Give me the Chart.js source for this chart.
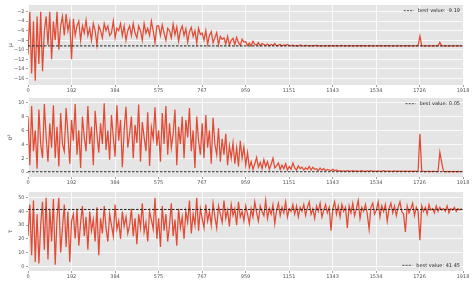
<!DOCTYPE html>
<html><head><meta charset="utf-8">
<script src="https://cdn.jsdelivr.net/npm/chart.js@4.4.1/dist/chart.umd.min.js"></script>
<style>
html,body{margin:0;padding:0;background:#fff;width:474px;height:284px;overflow:hidden;position:relative}
canvas{position:absolute;left:0}
</style></head><body>
<canvas id="c1" width="474" height="95" style="top:0px"></canvas>
<canvas id="c2" width="474" height="95" style="top:93px"></canvas>
<canvas id="c3" width="474" height="97" style="top:187px"></canvas>
<script>
// ---- data ----
const STEP = 8; // iterations between sampled points
const xTickValues = [0, 191.8, 383.6, 575.4, 767.2, 959, 1150.8, 1342.6, 1534.4, 1726.2, 1918];
const xTickLabels = ['0','192','384','575','767','959','1151','1343','1534','1726','1918'];

const muValues = [
  -11,-2,-15,-4,-16.5,-3,-13,-2,-14.5,-6,
  -3,-9,-2,-12,-4,-8,-2,-10,-5,-3,
  -7,-2.5,-6,-4,-12,-3.5,-7,-5,-4,-8,
  -5,-6.5,-3.8,-7,-5.5,-8,-4.5,-6,-9,-5,
  -6,-7.5,-4.5,-6,-5,-7,-6.5,-4,-7.5,-5.5,
  -6,-4.5,-7,-5,-8,-6,-5,-7,-4.5,-6.5,
  -7.5,-5,-6,-8,-4.5,-6.5,-5.5,-7,-4,-6,-8.5,-5,
  -5,-7,-4.8,-6.5,-8,-5.5,-6,-7.5,-4.6,-6.8,-5.2,-8.2,-6,-5,-7,-5.6,-8.4,-6.2,-5.3,-7.2,-6,-8.6,-5.5,-6.8,
  -6.5,-8,-6,-8.8,-7,-6.2,-8.5,-7.5,-6.4,-8.9,-7.2,-7.8,
  -7.5,-8.8,-7.2,-9,-8,-7.6,-8.9,-7.4,-8.5,-9.1,-7.8,-8.4,
  -8.3,-9.1,-8.6,-9.2,-8.2,-8.9,-9,-8.5,-9.2,-8.7,-8.9,-9.1,
  -8.8,-9.2,-8.9,-9.1,-8.7,-9.2,-9,-8.9,-9.2,-9,-9.1,-8.9,
  -9.1,-9.2,-9.05,-9.18,-9.12,-9.2,-9.0,-9.16,-9.2,-9.1,-9.15,-9.19,
  -9.12,-9.2,-9.15,-9.1,-9.19,-9.14,-9.2,-9.16,-9.11,-9.19,-9.15,-9.2,
  -9.15,-9.19,-9.12,-9.2,-9.17,-9.1,-9.19,-9.15,-9.2,-9.13,-9.18,-9.16,
  -9.18,-9.12,-9.2,-9.15,-9.19,-9.14,-9.2,-9.17,-9.13,-9.19,-9.16,-9.2,
  -9.16,-9.2,-9.14,-9.19,-9.17,-9.2,-9.15,-9.18,-9.2,-9.16,-9.19,-9.17,
  -9.19,-9.16,-9.2,-9.17,-9.19,-9.15,-9.2,-9.18,-9.16,-9.2,-9.18,-9.19,
  -7.1,
  -9.19,-9.17,-9.2,-9.18,-9.19,-9.16,-9.2,-9.18,-9.19,-9.17,
  -8.45,
  -9.18,-9.2,-9.17,-9.19,-9.2,-9.18,-9.19,-9.17,-9.2,-9.19,-9.18,-9.19
];

const sigmaValues = [
  8,1,9.5,3,6,0.5,9,4,2,9.8,
  5,1.5,7,3.5,9.6,2,6.5,0.8,8.5,4,
  3,9.2,5.5,1.2,7.5,4.5,9.8,2.5,6,0.6,
  8,5,3,9.5,4,6.5,1,8.8,5.5,2.8,
  7,4,9.9,3.2,6,1.8,8.2,5,2.2,9.6,
  4.5,7.5,0.7,6,9.4,3.5,5.5,8,2,6.8,
  4.2,9.7,1.5,7.2,5,3,8.6,0.9,6.4,4.8,9.3,3.8,
  6,1.5,8.5,4,9.5,2.5,7,3.5,5.5,9,1,6.5,4,8,2,7.5,5,9.2,3,6,0.6,8,4.5,2.5,
  7,2,8.2,3.5,6,1.2,7.8,4,2.5,
  6.3,1.5,4.8,2.5,5.5,1,3.8,2,
  4.2,1.2,3.5,0.8,4.5,2,3.6,1,
  2.8,0.6,1.5,0.4,1.2,2.1,0.7,1.4,0.5,1.8,
  0.8,1.5,0.4,1.1,2,0.6,0.9,1.3,0.4,1.0,
  0.5,1.2,0.3,0.8,0.4,1.3,0.6,0.3,0.9,0.5,0.7,0.3,0.6,0.4,0.8,
  0.3,0.7,0.4,0.5,0.2,0.6,0.3,0.5,0.2,0.4,0.3,0.2,0.4,0.2,0.3,
  0.15,0.2,0.1,0.18,0.12,0.2,0.1,0.15,0.2,0.12,0.18,0.1,0.16,0.2,0.12,
  0.1,0.17,0.12,0.2,0.1,0.15,0.12,0.18,0.1,0.14,0.2,0.1,0.13,0.16,0.1,
  0.12,0.18,0.1,0.15,0.11,0.16,0.1,0.14,0.12,0.1,0.15,0.11,0.13,0.1,0.12,
  5.5,
  0.1,0.12,0.08,0.1,0.12,0.09,0.1,0.11,0.08,0.1,
  2.85,1.4,
  0.1,0.08,0.11,0.09,0.1,0.08,0.1,0.09,0.11,0.08,0.1
];

const tauValues = [
  22,45,8,48,3,38,2,30,47,12,
  50,5,42,18,49,1,35,50,10,28,
  45,14,40,3,33,
  38,20,42,15,32,44,22,36,12,40,26,34,18,43,8,
  35,24,44,28,18,38,30,22,45,27,33,20,40,29,36,24,
  30,42,22,35,16,38,28,46,25,32,18,40,34,27,50,20,
  35,14,44,26,38,18,30,46,22,34,15,42,28,36,20,40,
  32,48,24,38,30,50,26,42,35,28,45,33,
  40,30,46,36,28,44,38,32,48,35,41,29,45,37,42,30,47,36,40,33,44,38,31,
  42,36,47,39,33,44,40,37,48,35,42,38,45,31,41,46,37,43,39,47,36,42,40,45,38,44,36,43,
  40,45,37,43,47,38,42,35,44,40,46,36,41,45,39,43,
  26,
  42,47,38,44,36,45,40,43,
  28,
  44,39,46,37,42,48,35,43,40,45,38,
  27,
  43,46,38,41,47,36,44,40,45,33,42,46,39,44,37,43,47,40,38,
  25,
  44,39,42,46,37,43,40,
  19,
  44,40,43,38,45,41,42,39,44,40,43,41,42,40,44,39,42,41,43,40,42,41,42
];

const bestValues = [-9.19, 0.05, 41.45];
const bestLabels = ['best value: -9.19', 'best value: 0.05', 'best value: 41.45'];
const yLabels = ['\u03bc', '\u03c3\u00b2', '\u03c4'];
const muTicks = [-16,-14,-12,-10,-8,-6,-4,-2];
const sigmaTicks = [0,2,4,6,8,10];
const tauTicks = [0,10,20,30,40,50];

// ---- drawing ----
const RED = '#E24A33';
const FONT = "'DejaVu Sans', sans-serif";

const bgPlugin = {
  id: 'bg',
  beforeDraw(chart) {
    const {ctx, chartArea: a} = chart;
    ctx.save();
    ctx.fillStyle = '#E5E5E5';
    ctx.fillRect(a.left, a.top, a.right - a.left, a.bottom - a.top);
    ctx.restore();
  }
};

const bestLegendPlugin = {
  id: 'bestLegend',
  afterDraw(chart, args, opts) {
    const {ctx, chartArea: a} = chart;
    ctx.save();
    ctx.font = '5px ' + FONT;
    const w = ctx.measureText(opts.text).width;
    const right = a.right - 3;
    const y = opts.pos === 'top' ? a.top + 5.7 : a.bottom - 5.7;
    const tx = right - w;
    ctx.fillStyle = '#222';
    ctx.textBaseline = 'middle';
    ctx.fillText(opts.text, tx, y);
    ctx.strokeStyle = '#222';
    ctx.lineWidth = 0.8;
    ctx.setLineDash([2, 1.2]);
    ctx.beginPath();
    ctx.moveTo(tx - 14, y);
    ctx.lineTo(tx - 4, y);
    ctx.stroke();
    ctx.restore();
  }
};

function makeChart(id, values, best, label, yTicks, yMin, yMax, xAxisH, legendPos, legendText) {
  const pts = values.map((v, i) => ({x: i * STEP, y: v}));
  return new Chart(document.getElementById(id), {
    type: 'line',
    data: {
      datasets: [
        {data: [{x: 0, y: best}, {x: 1918, y: best}], borderColor: '#222', borderWidth: 1,
         borderDash: [2.5, 1.5], pointRadius: 0, order: 0},
        {data: pts, borderColor: RED, borderWidth: 1.25, pointRadius: 0, tension: 0, order: 1}
      ]
    },
    options: {
      responsive: false, animation: false, devicePixelRatio: 1,
      layout: {padding: {left: 0, right: 11, top: 5, bottom: 0}},
      plugins: {legend: {display: false}, tooltip: {enabled: false},
                bestLegend: {text: legendText, pos: legendPos}},
      scales: {
        x: {
          type: 'linear', min: 0, max: 1918,
          afterBuildTicks: s => { s.ticks = xTickValues.map(v => ({value: v})); },
          afterFit: s => { s.height = xAxisH; },
          ticks: {
            autoSkip: false, maxRotation: 0, padding: 0.5,
            color: '#555', font: {family: FONT, size: 5},
            callback: (v, i) => xTickLabels[i]
          },
          grid: {color: '#fff', lineWidth: 0.8, tickColor: '#888', tickLength: 2, drawTicks: true},
          border: {display: false}
        },
        y: {
          min: yMin, max: yMax,
          afterBuildTicks: s => { s.ticks = yTicks.map(v => ({value: v})); },
          afterFit: s => { s.width = 28; },
          ticks: {color: '#555', font: {family: FONT, size: 5}, padding: 1.5,
                  callback: v => String(v).replace('-', '\u2212')},
          grid: {color: '#fff', lineWidth: 0.8, tickColor: '#888', tickLength: 2},
          border: {display: false},
          title: {display: true, text: label, color: '#555', font: {family: FONT, size: 6},
                  padding: {top: 7, bottom: 0}}
        }
      }
    },
    plugins: [bgPlugin, bestLegendPlugin]
  });
}

makeChart('c1', muValues, bestValues[0], yLabels[0], muTicks, -17.4, -0.6, 10, 'top', bestLabels[0]);
makeChart('c2', sigmaValues, bestValues[1], yLabels[1], sigmaTicks, -0.7, 10.65, 11, 'top', bestLabels[1]);
makeChart('c3', tauValues, bestValues[2], yLabels[2], tauTicks, -3.5, 54.2, 13, 'bottom', bestLabels[2]);
</script>
</body></html>
